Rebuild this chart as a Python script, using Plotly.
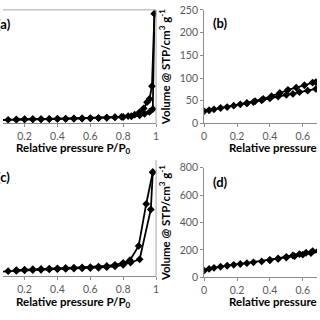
import plotly.graph_objects as go

# ---------------- data ----------------
a_ads_p = [0.02, 0.05, 0.1, 0.15, 0.2, 0.25, 0.3, 0.35, 0.4, 0.45, 0.5, 0.55, 0.6, 0.65, 0.7, 0.75, 0.8, 0.85, 0.9, 0.93, 0.96, 0.98, 0.99]
a_ads_v = [17, 18, 19, 20, 21, 22, 22, 23, 24, 24, 25, 26, 27, 28, 30, 32, 34, 38, 43, 51, 61, 76, 580]
a_des_p = [0.99, 0.975, 0.96, 0.945, 0.925, 0.9, 0.87, 0.83, 0.79, 0.75, 0.7, 0.65, 0.6, 0.55, 0.5, 0.45, 0.4, 0.35, 0.3, 0.25, 0.2, 0.15]
a_des_v = [580, 197, 129, 112, 80, 60, 46, 39, 35, 33, 31, 29, 28, 27, 26, 25, 25, 24, 23, 23, 22, 21]

b_ads_p = [0.0, 0.03, 0.06, 0.1, 0.14, 0.18, 0.22, 0.26, 0.3, 0.35, 0.4, 0.45, 0.5, 0.54, 0.58, 0.63, 0.68]
b_ads_v = [27, 29, 31, 34, 36, 39, 42, 44, 47, 51, 55, 59, 63, 65, 69, 72, 76]
b_des_p = [0.68, 0.66, 0.61, 0.56, 0.51, 0.46, 0.41, 0.36, 0.31, 0.26]
b_des_v = [91, 90, 84, 79, 74, 67, 60, 54, 49, 45]

c_ads_p = [0.02, 0.05, 0.1, 0.15, 0.2, 0.25, 0.3, 0.35, 0.4, 0.45, 0.5, 0.55, 0.6, 0.65, 0.7, 0.75, 0.8, 0.845, 0.9, 0.968, 0.98]
c_ads_v = [15, 17, 18, 19, 21, 22, 23, 24, 25, 26, 27, 28, 29, 30, 32, 35, 40, 48, 59, 230, 358]
c_des_p = [0.98, 0.94, 0.894, 0.841, 0.8, 0.75, 0.7, 0.65, 0.6, 0.55, 0.5, 0.45, 0.4, 0.35, 0.3, 0.25, 0.2, 0.15]
c_des_v = [358, 249, 105, 56, 47, 40, 36, 34, 32, 31, 30, 29, 28, 27, 26, 25, 23, 22]

d_ads_p = [0.0, 0.03, 0.06, 0.1, 0.14, 0.18, 0.22, 0.26, 0.3, 0.35, 0.4, 0.45, 0.5, 0.55, 0.6, 0.65, 0.7]
d_ads_v = [50, 62, 70, 78, 85, 92, 98, 104, 110, 117, 125, 135, 145, 155, 166, 178, 188]
d_des_p = [0.7, 0.66, 0.62, 0.58, 0.54, 0.5, 0.45, 0.4]
d_des_v = [200, 192, 180, 170, 160, 150, 138, 128]

x_tickvals_left = [0.2, 0.4, 0.6, 0.8, 1.0]
x_ticktext_left = ["0.2", "0.4", "0.6", "0.8", "1"]
x_tickvals_right = [0, 0.2, 0.4, 0.6, 0.8, 1.0]
x_ticktext_right = ["0", "0.2", "0.4", "0.6", "0.8", "1"]
panel_labels = ["(a)", "(b)", "(c)", "(d)"]
x_title = "Relative pressure P/P<sub>0</sub>"
y_title = "Volume @ STP/cm<sup>3</sup> g<sup>-1</sup>"

# ---------------- figure ----------------
FONT = "Lato"
W = H = 320
fig = go.Figure()

def add_series(px, vy, xa, ya):
    fig.add_trace(go.Scatter(
        x=px, y=vy, xaxis=xa, yaxis=ya, mode="lines+markers",
        line=dict(color="black", width=1.8),
        marker=dict(symbol="diamond", size=6, color="black"),
        showlegend=False, hoverinfo="skip"))

add_series(a_ads_p, a_ads_v, "x", "y")
add_series(a_des_p, a_des_v, "x", "y")
add_series(b_ads_p, b_ads_v, "x2", "y2")
add_series(b_des_p, b_des_v, "x2", "y2")
add_series(c_ads_p, c_ads_v, "x3", "y3")
add_series(c_des_p, c_des_v, "x3", "y3")
add_series(d_ads_p, d_ads_v, "x4", "y4")
add_series(d_des_p, d_des_v, "x4", "y4")

def px_x(p):
    return p / W

def px_y(p):
    return 1 - p / H

AX = "#8c8c8c"
TICKF = dict(family=FONT, size=10.5, color="#595959")
TITLEF = dict(family=FONT, size=11.5, color="black", weight="bold")

xbase = dict(showgrid=False, zeroline=False, showline=True, linecolor=AX, linewidth=1,
             ticks="outside", ticklen=3, tickcolor=AX, tickfont=TICKF)
ybase = dict(showgrid=False, zeroline=False, showline=True, linecolor=AX, linewidth=1,
             ticks="outside", ticklen=3, tickcolor=AX, tickfont=TICKF,
             title=dict(text=y_title, font=TITLEF, standoff=6))
yhidden = dict(visible=False)

left_dom = [0, px_x(156)]
right_dom = [px_x(205), 1]
top_dom = [px_y(122), px_y(4)]
bot_dom_c = [px_y(281), px_y(160)]
bot_dom_d = [px_y(282), px_y(168)]

fig.update_layout(
    width=W, height=H, margin=dict(l=0, r=0, t=0, b=0),
    paper_bgcolor="white", plot_bgcolor="white",
    xaxis=dict(xbase, domain=left_dom, range=[0.0687, 1.0], anchor="y",
               tickvals=x_tickvals_left, ticktext=x_ticktext_left),
    yaxis=dict(yhidden, domain=top_dom, range=[0, 600], anchor="x"),
    xaxis2=dict(xbase, domain=right_dom, range=[0, 0.6866], anchor="y2",
                tickvals=x_tickvals_right, ticktext=x_ticktext_right),
    yaxis2=dict(ybase, domain=top_dom, range=[0, 250], dtick=50, anchor="x2"),
    xaxis3=dict(xbase, domain=left_dom, range=[0.0687, 1.0], anchor="y3",
                tickvals=x_tickvals_left, ticktext=x_ticktext_left),
    yaxis3=dict(yhidden, domain=bot_dom_c, range=[0, 400], anchor="x3"),
    xaxis4=dict(xbase, domain=right_dom, range=[0, 0.6866], anchor="y4",
                tickvals=x_tickvals_right, ticktext=x_ticktext_right),
    yaxis4=dict(ybase, domain=bot_dom_d, range=[0, 800], dtick=200, anchor="x4"),
)

# plot-area borders of the left panels (top + right edge)
BORDER = dict(color="#a6a6a6", width=1)
fig.add_shape(type="line", xref="x domain", yref="y domain", x0=0, x1=1, y0=1, y1=1, line=BORDER)
fig.add_shape(type="line", xref="x domain", yref="y domain", x0=1, x1=1, y0=0, y1=1, line=BORDER)
fig.add_shape(type="line", xref="x3 domain", yref="y3 domain", x0=1, x1=1, y0=0, y1=1, line=BORDER)

# x-axis titles, centred under the full (partly cropped) axes
for cx, cy in [(72, 148), (289, 148), (72, 308), (289, 308)]:
    fig.add_annotation(text=x_title, xref="paper", yref="paper", x=px_x(cx), y=px_y(cy),
                       xanchor="center", yanchor="middle", showarrow=False, font=TITLEF)

LABF = dict(family=FONT, size=13, color="black", weight="bold")
fig.add_annotation(text=panel_labels[0], xref="paper", yref="paper", x=px_x(10), y=px_y(19),
                   xanchor="right", yanchor="middle", showarrow=False, font=LABF)
fig.add_annotation(text=panel_labels[1], xref="paper", yref="paper", x=px_x(212), y=px_y(18),
                   xanchor="left", yanchor="middle", showarrow=False, font=LABF)
fig.add_annotation(text=panel_labels[2], xref="paper", yref="paper", x=px_x(9), y=px_y(178),
                   xanchor="right", yanchor="middle", showarrow=False, font=LABF)
fig.add_annotation(text=panel_labels[3], xref="paper", yref="paper", x=px_x(212), y=px_y(183),
                   xanchor="left", yanchor="middle", showarrow=False, font=LABF)

fig.write_html("out.html")
